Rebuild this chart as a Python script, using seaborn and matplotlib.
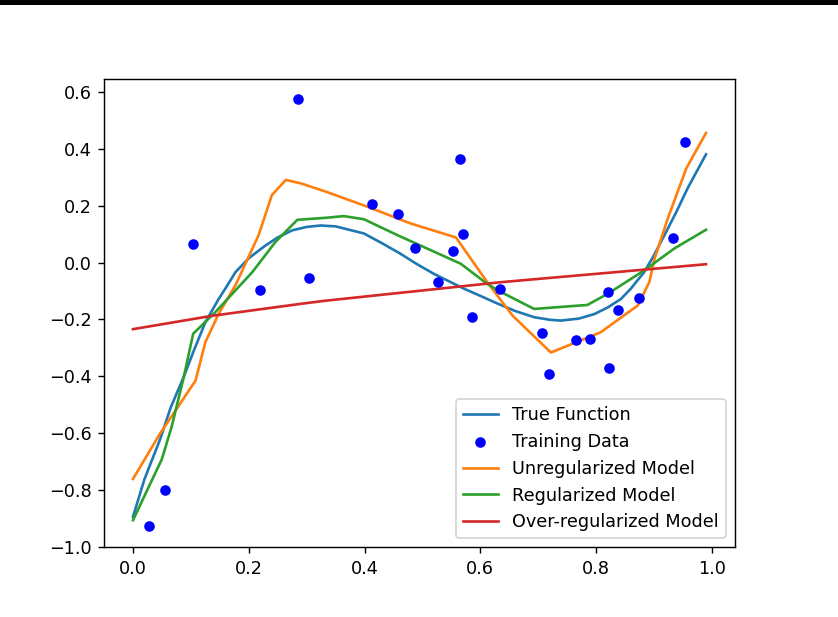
import matplotlib
matplotlib.use("Agg")
import matplotlib.pyplot as plt
from matplotlib.patches import Rectangle
import seaborn as sns

# Training data
train_x = [0.028, 0.055, 0.103, 0.219, 0.285, 0.304, 0.413, 0.458, 0.488, 0.527,
           0.553, 0.565, 0.570, 0.585, 0.634, 0.707, 0.718, 0.766, 0.790, 0.821,
           0.822, 0.838, 0.874, 0.933, 0.954]
train_y = [-0.925, -0.798, 0.066, -0.098, 0.574, -0.055, 0.204, 0.170, 0.052, -0.067,
           0.042, 0.362, 0.100, -0.192, -0.092, -0.247, -0.390, -0.271, -0.269, -0.102,
           -0.372, -0.165, -0.125, 0.086, 0.425]

# True function
true_x = [0.0, 0.02, 0.047, 0.065, 0.088, 0.105, 0.125, 0.148, 0.16, 0.177, 0.20, 0.229,
          0.25, 0.275, 0.30, 0.324, 0.35, 0.399, 0.43, 0.462, 0.49, 0.520, 0.572, 0.60,
          0.624, 0.66, 0.693, 0.72, 0.739, 0.77, 0.797, 0.82, 0.843, 0.86, 0.883, 0.90,
          0.924, 0.94, 0.958, 0.990]
true_y = [-0.893, -0.76, -0.62, -0.51, -0.40, -0.31, -0.21, -0.128, -0.09, -0.034, 0.015,
          0.060, 0.088, 0.113, 0.125, 0.130, 0.127, 0.102, 0.068, 0.031, -0.005, -0.040,
          -0.092, -0.117, -0.139, -0.170, -0.192, -0.201, -0.204, -0.197, -0.181, -0.158,
          -0.128, -0.092, -0.034, 0.025, 0.119, 0.183, 0.260, 0.380]

# Unregularized model
unreg_x = [0.0, 0.047, 0.108, 0.125, 0.148, 0.177, 0.217, 0.240, 0.264, 0.290, 0.333,
           0.405, 0.480, 0.558, 0.612, 0.656, 0.722, 0.808, 0.872, 0.892, 0.901, 0.924,
           0.956, 0.990]
unreg_y = [-0.76, -0.60, -0.415, -0.28, -0.18, -0.08, 0.096, 0.237, 0.29, 0.278, 0.249,
           0.196, 0.137, 0.088, -0.069, -0.187, -0.316, -0.245, -0.151, -0.069, 0.013, 0.155,
           0.331, 0.455]

# Regularized model
reg_x = [0.0, 0.050, 0.067, 0.088, 0.104, 0.142, 0.206, 0.246, 0.284, 0.333, 0.364,
         0.399, 0.457, 0.566, 0.612, 0.636, 0.693, 0.785, 0.820, 0.883, 0.935, 0.990]
reg_y = [-0.905, -0.69, -0.575, -0.40, -0.25, -0.175, -0.034, 0.072, 0.150, 0.157, 0.163,
         0.152, 0.096, -0.004, -0.075, -0.104, -0.163, -0.149, -0.110, -0.028, 0.049, 0.115]

# Over-regularized model
over_x = [0.0, 0.137, 0.290, 0.333, 0.636, 0.883, 0.990]
over_y = [-0.234, -0.187, -0.145, -0.134, -0.069, -0.025, -0.006]

fig = plt.figure(figsize=(838 / 127, 617 / 127), dpi=127)
ax = fig.add_axes([0.1245, 0.1130, 0.8767 - 0.1245, 0.8715 - 0.1130])

sns.lineplot(x=true_x, y=true_y, color="C0", lw=1.5, label="True Function", ax=ax)
sns.scatterplot(x=train_x, y=train_y, color="blue", s=36, linewidth=0,
                label="Training Data", ax=ax, zorder=3)
sns.lineplot(x=unreg_x, y=unreg_y, color="C1", lw=1.5, label="Unregularized Model", ax=ax)
sns.lineplot(x=reg_x, y=reg_y, color="C2", lw=1.5, label="Regularized Model", ax=ax)
sns.lineplot(x=over_x, y=over_y, color="C3", lw=1.5, label="Over-regularized Model", ax=ax)

ax.set_xlim(-0.0495, 1.0395)
ax.set_ylim(-1.0, 0.6435)
ax.set_xticks([0.0, 0.2, 0.4, 0.6, 0.8, 1.0])
ax.set_yticks([-1.0, -0.8, -0.6, -0.4, -0.2, 0.0, 0.2, 0.4, 0.6])

handles, labels = ax.get_legend_handles_labels()
order = ["True Function", "Training Data", "Unregularized Model",
         "Regularized Model", "Over-regularized Model"]
hmap = dict(zip(labels, handles))
ax.legend([hmap[k] for k in order], order, loc="lower right")

# top black rule
fig.add_artist(Rectangle((0, 1 - 5 / 617), 1, 5 / 617, transform=fig.transFigure,
                         facecolor="black", edgecolor="none"))

fig.savefig("out.png", dpi=127)
